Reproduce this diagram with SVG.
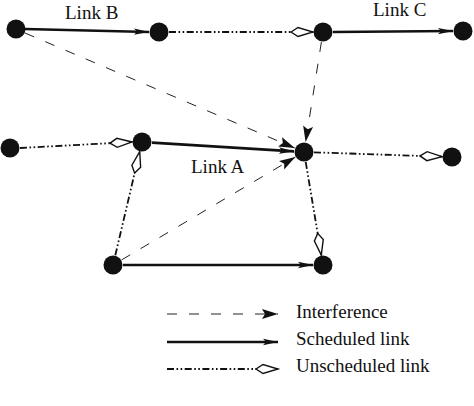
<svg xmlns="http://www.w3.org/2000/svg" width="474" height="406" viewBox="0 0 474 406">
<style>
.node{fill:#111}
.sched{stroke:#111;stroke-width:2.6;fill:none}
.unsched{stroke:#111;stroke-width:1.8;fill:none;stroke-dasharray:7 2.5 1.6 2.5 1.6 2.5}
.interf{stroke:#222;stroke-width:1;fill:none;stroke-dasharray:10 12}
text{font-family:"Liberation Serif","Times New Roman",serif;font-size:19px;fill:#111}
</style>
<defs>
<marker id="arr" markerUnits="userSpaceOnUse" markerWidth="18" markerHeight="10" refX="15" refY="4" orient="auto" overflow="visible">
<path d="M0,0.8 L15,4 L0,7.2 L3,4 z" fill="#111"/>
</marker>
<marker id="iarr" markerUnits="userSpaceOnUse" markerWidth="18" markerHeight="12" refX="16" refY="5" orient="auto" overflow="visible">
<path d="M0,0 L16,5 L0,10 L3,5 z" fill="#111"/>
</marker>
<marker id="dia" markerUnits="userSpaceOnUse" markerWidth="24" markerHeight="11" refX="22" refY="4.5" orient="auto" overflow="visible">
<path d="M0,4.5 L7,0 L22,4.5 L7,9 z" fill="#fff" stroke="#111" stroke-width="1.4"/>
</marker>
</defs>
<g id="connectors">
<line class="sched" x1="25" y1="29" x2="149" y2="32" marker-end="url(#arr)"/>
<line class="unsched" x1="169" y1="32" x2="313" y2="32" marker-end="url(#dia)"/>
<line class="sched" x1="333" y1="32" x2="453" y2="31" marker-end="url(#arr)"/>
<line class="interf" x1="25" y1="33" x2="294.8" y2="148.1" marker-end="url(#iarr)"/>
<line class="interf" x1="321.4" y1="42" x2="305.6" y2="142.1" marker-end="url(#iarr)"/>
<line class="unsched" x1="20" y1="148" x2="132" y2="142" marker-end="url(#dia)"/>
<line class="sched" x1="152" y1="142.6" x2="294" y2="151.4" marker-end="url(#arr)"/>
<line class="unsched" x1="115.3" y1="255.3" x2="139.7" y2="151.7" marker-end="url(#dia)"/>
<line class="interf" x1="121.6" y1="259.9" x2="295.4" y2="157.1" marker-end="url(#iarr)"/>
<line class="sched" x1="123" y1="265" x2="313" y2="265" marker-end="url(#arr)"/>
<line class="unsched" x1="314" y1="152.3" x2="442" y2="156.7" marker-end="url(#dia)"/>
<line class="unsched" x1="305.7" y1="161.9" x2="321.3" y2="255.1" marker-end="url(#dia)"/>
</g>
<g id="n1"><circle class="node" cx="16" cy="29" r="9.5"/></g>
<g id="n2"><circle class="node" cx="159" cy="32" r="9.5"/></g>
<g id="n3"><circle class="node" cx="323" cy="32" r="9.5"/></g>
<g id="n4"><circle class="node" cx="463" cy="31" r="9.5"/></g>
<g id="n5"><circle class="node" cx="10" cy="148" r="9.5"/></g>
<g id="n6"><circle class="node" cx="142" cy="142" r="9.5"/></g>
<g id="n7"><circle class="node" cx="304" cy="152" r="9.5"/></g>
<g id="n8"><circle class="node" cx="452" cy="157" r="9.5"/></g>
<g id="n9"><circle class="node" cx="113" cy="265" r="9.5"/></g>
<g id="n10"><circle class="node" cx="323" cy="265" r="9.5"/></g>
<g id="labels">
<text x="65" y="19">Link B</text>
<text x="373" y="16">Link C</text>
<text x="191" y="173">Link A</text>
</g>
<g id="legend">
<line class="interf" x1="167" y1="314" x2="278" y2="314" marker-end="url(#iarr)"/>
<line class="sched" x1="167" y1="342" x2="278" y2="342" marker-end="url(#arr)"/>
<line class="unsched" x1="167" y1="369" x2="278" y2="369" marker-end="url(#dia)"/>
<text x="296" y="318">Interference</text>
<text x="296" y="345">Scheduled link</text>
<text x="296" y="372">Unscheduled link</text>
</g>
</svg>
